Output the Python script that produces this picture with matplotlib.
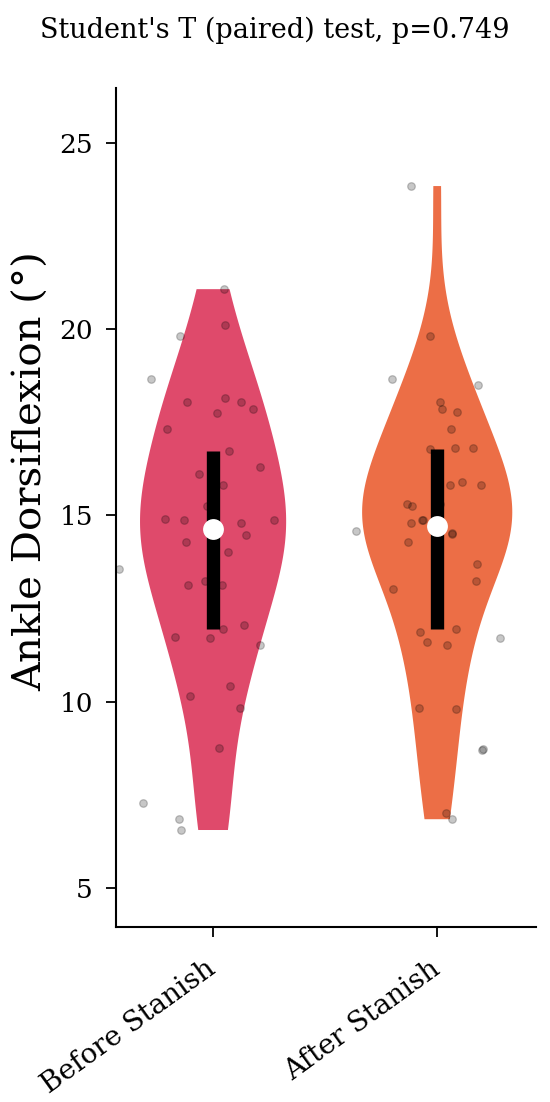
import numpy as np
import matplotlib
matplotlib.use("Agg")
import matplotlib.pyplot as plt
from matplotlib.transforms import ScaledTranslation

categories = ["Before Stanish", "After Stanish"]

before = [21.08, 20.13, 19.82, 18.66, 18.04, 18.15, 18.05, 17.85, 17.76, 17.33,
          16.74, 16.31, 16.11, 15.82, 15.26, 14.90, 14.88, 14.79, 14.87, 14.47,
          14.29, 14.02, 13.56, 13.12, 13.25, 13.12, 11.94, 12.05, 11.74, 11.70,
          11.51, 10.41, 10.15, 9.84, 8.74, 7.28, 6.84, 6.55, 14.60, 14.65, 16.40]
before_jitter = [0.048, 0.055, -0.149, -0.275, -0.117, 0.055, 0.125, 0.177, 0.018, -0.205,
                 0.071, 0.208, -0.065, 0.045, -0.027, -0.214, -0.129, 0.125, 0.274, 0.149,
                 -0.123, 0.067, -0.419, -0.112, -0.036, 0.038, 0.045, 0.140, -0.170, -0.013,
                 0.208, 0.075, -0.105, 0.119, 0.027, -0.311, -0.151, -0.144, 0.010, -0.012, 0.004]

after = [23.85, 19.82, 18.66, 18.50, 18.05, 17.85, 17.77, 17.32, 16.78, 16.80,
         16.80, 15.81, 15.90, 15.81, 15.30, 15.26, 14.88, 14.88, 14.79, 14.50,
         14.52, 14.57, 14.29, 13.70, 13.25, 13.03, 11.87, 11.94, 11.61, 11.51,
         11.71, 9.83, 9.80, 8.71, 8.73, 7.00, 6.84, 14.62, 14.68, 14.72, 15.30]
after_jitter = [-0.116, -0.032, -0.200, 0.181, 0.011, 0.020, 0.090, 0.060, -0.033, 0.078,
                0.158, 0.057, 0.112, 0.196, -0.133, -0.113, -0.068, -0.063, -0.116, 0.067,
                0.064, -0.362, -0.130, 0.178, 0.172, -0.197, -0.075, 0.084, -0.047, 0.045,
                0.279, -0.083, 0.084, 0.201, 0.206, 0.041, 0.065, 0.008, -0.010, 0.003, 0.012]

yticks = [5, 10, 15, 20, 25]
colors = ["#DF4A6B", "#EC6E46"]
title = "Student's T (paired) test, p=0.749"
ylabel = "Ankle Dorsiflexion (°)"

plt.rcParams['font.family'] = ['DejaVu Serif']

fig = plt.figure(figsize=(5.5, 11.02), dpi=100)
ax = fig.add_axes([0.211, 0.159, 0.764, 0.761])

data = [np.array(before), np.array(after)]
jits = [np.array(before_jitter), np.array(after_jitter)]
positions = [0, 1]

vp = ax.violinplot(data, positions=positions, widths=[0.652, 0.67],
                   showextrema=False, showmedians=False, points=300,
                   bw_method='scott')
for body, c in zip(vp['bodies'], colors):
    body.set_facecolor(c)
    body.set_edgecolor('none')
    body.set_alpha(1)
    body.set_zorder(1)

for p, d, j in zip(positions, data, jits):
    ax.scatter(p + j, d, s=30, color='k', alpha=0.22, linewidths=0.9, zorder=2)
    q1, med, q3 = np.percentile(d, [25, 50, 75])
    ax.vlines(p, q1, q3, color='k', lw=9.6, zorder=3)
    ax.plot([p], [med], marker='o', color='white', markersize=15, zorder=4,
            markeredgewidth=0)

ax.set_xlim(-0.433, 1.442)
ax.set_ylim(3.95, 26.48)
ax.set_yticks(yticks)
ax.set_xticks(positions)
ax.set_xticklabels(categories, rotation=36, ha='right', rotation_mode='anchor')
ax.tick_params(axis='both', labelsize=19, length=7.2, width=1.3, direction='out')
ax.tick_params(axis='y', pad=9.5)
ax.tick_params(axis='x', pad=13, labelsize=20)
ax.set_ylabel(ylabel, fontsize=29)
ax.yaxis.set_label_coords(-0.157, 0.5435)
for s in ['top', 'right']:
    ax.spines[s].set_visible(False)
for s in ['left', 'bottom']:
    ax.spines[s].set_linewidth(1.5)

offset = ScaledTranslation(-8 / 100, 0, fig.dpi_scale_trans)
for lab in ax.get_xticklabels():
    lab.set_transform(lab.get_transform() + offset)

fig.text(0.5, 1 - 30 / 1102, title, fontsize=19.5, ha='center', va='center')

fig.savefig("out.png", dpi=100)
